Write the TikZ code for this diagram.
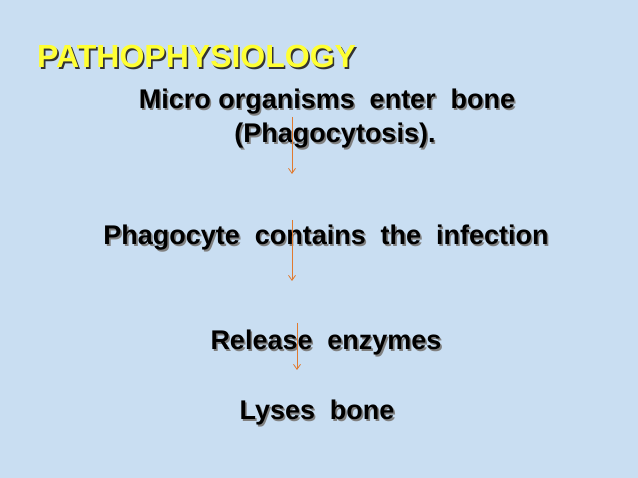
\documentclass[tikz,border=0pt]{standalone}
\usepackage{fontspec}
\setmainfont{Liberation Sans}
\usetikzlibrary{arrows.meta}

\definecolor{slidebg}{HTML}{C9DEF2}
\definecolor{titleyel}{HTML}{FFFF33}
\definecolor{flowarr}{HTML}{E07A30}
\newcommand\shtxt[2]{\makebox[0pt][l]{\raisebox{-1.6pt}{\hspace{1.6pt}\textcolor{#1}{#2}}}#2}
\newcommand\gap{\hspace{0.55em}}

\begin{document}
\begin{tikzpicture}[x=1pt,y=-1pt,
    heading/.style={anchor=base west,inner sep=0pt,font=\fontsize{32}{36}\selectfont\bfseries,text=titleyel},
    stage/.style={anchor=base,inner sep=0pt,align=center,font=\fontsize{27}{33}\selectfont\bfseries},
    flow/.style={->,>={Straight Barb[length=5pt,width=7pt]},draw=flowarr,line width=0.8pt}
    ]
    \fill[slidebg] (0,0) rectangle (638,478);
    \useasboundingbox (0,0) rectangle (638,478);

    \node (title) [heading] at (37,68) {\shtxt{black!80}{PATHOPHYSIOLOGY}};

    \node (m1) [stage] at (327,109) {\shtxt{gray}{Micro organisms\gap enter\gap bone}};
    \node (m2) [stage] at (335,143) {\shtxt{gray}{(Phagocytosis).}};
    \node (p1) [stage] at (326,245) {\shtxt{gray}{Phagocyte\gap contains\gap the\gap infection}};
    \node (r1) [stage] at (326,350) {\shtxt{gray}{Release\gap enzymes}};
    \node (l1) [stage] at (317,420) {\shtxt{gray}{Lyses\gap bone}};

    % arrows
    \coordinate (a0) at (292,117);
    \coordinate (a1) at (292,174);
    \coordinate (b0) at (292,220);
    \coordinate (b1) at (292,281);
    \coordinate (c0) at (297,323);
    \coordinate (c1) at (297,370);
    \draw[flow] (a0) -- (a1);
    \draw[flow] (b0) -- (b1);
    \draw[flow] (c0) -- (c1);

  \end{tikzpicture}
\end{document}
